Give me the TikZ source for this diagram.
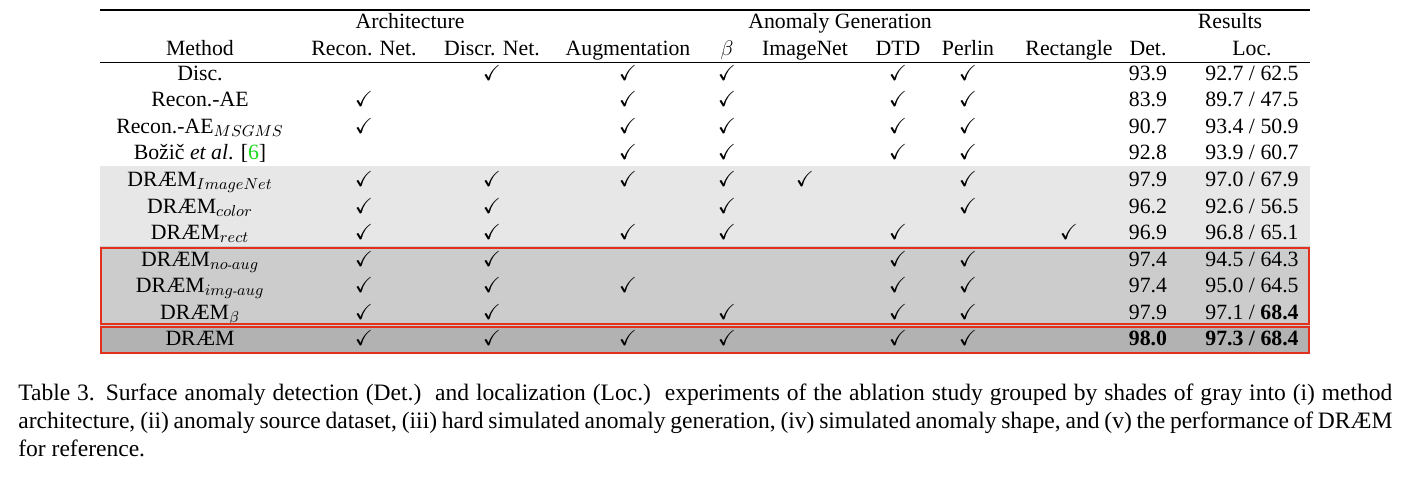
\documentclass[tikz,border=0pt]{standalone}
\usepackage{amssymb}
\usepackage{fontspec}
\setmainfont{Liberation Serif}
\newcommand{\hy}{\mbox{\fontsize{7}{8}\selectfont-}}
\begin{document}
\begin{tikzpicture}[x=0.02cm,y=-0.02cm,
  cell/.style={inner sep=0pt,font=\rmfamily\fontsize{12.4}{14}\selectfont},
  redbox/.style={draw={rgb,255:red,226;green,48;blue,30},line width=1.6pt}]
\useasboundingbox[fill=white] (0,0) rectangle (1408,484);
\definecolor{g1}{gray}{0.905}
\definecolor{g2}{gray}{0.80}
\definecolor{g3}{gray}{0.70}
\fill[g1] (100,166) rectangle (1310,246);
\fill[g2] (100,246) rectangle (1310,326);
\fill[g3] (100,326) rectangle (1310,353);
\draw[line width=0.6pt] (100,10) -- (1310,10);
\draw[line width=0.4pt] (100,62) -- (1310,62);
\node[cell,anchor=base] (hA) at (410,28) {Architecture};
\node[cell,anchor=base] (hG) at (840,28) {Anomaly Generation};
\node[cell,anchor=base] (hR) at (1230,28) {Results};
\foreach \x/\t [count=\i] in {200/Method,364/Recon. Net.,492/Discr. Net.,628/Augmentation,727/$\beta$,805/ImageNet,898/DTD,968/Perlin,1069/Rectangle,1148/Det.,1252/Loc.}
  \node[cell,anchor=base] (h\i) at (\x,55) {\t};
% rows
\foreach \y/\m/\r/\d/\a/\b/\im/\dt/\p/\re/\det/\loc [count=\i] in {
 74/Disc./0/1/1/1/0/1/1/0/93.9/{92.7 / 62.5},
 100/Recon.-AE/1/0/1/1/0/1/1/0/83.9/{89.7 / 47.5},
 127/Recon.-AE$_{MSGMS}$/1/0/1/1/0/1/1/0/90.7/{93.4 / 50.9},
 153/Bo\v{z}i\v{c} \textit{et al}. [{\color[rgb]{0.1,0.85,0.1}6}]/0/0/1/1/0/1/1/0/92.8/{93.9 / 60.7},
 180/DR\AE M$_{ImageNet}$/1/1/1/1/1/0/1/0/97.9/{97.0 / 67.9},
 207/DR\AE M$_{color}$/1/1/0/1/0/0/1/0/96.2/{92.6 / 56.5},
 233/DR\AE M$_{rect}$/1/1/1/1/0/1/0/1/96.9/{96.8 / 65.1},
 260/DR\AE M$_{no\hy aug}$/1/1/0/0/0/1/1/0/97.4/{94.5 / 64.3},
 286/DR\AE M$_{img\hy aug}$/1/1/1/0/0/1/1/0/97.4/{95.0 / 64.5},
 313/DR\AE M$_{\beta}$/1/1/0/1/0/1/1/0/97.9/{97.1 / \textbf{68.4}},
 339/DR\AE M/1/1/1/1/0/1/1/0/\textbf{98.0}/{\textbf{97.3 / 68.4}}}{
  \node[cell,anchor=base] (m\i) at (200,\y+6) {\m};
  \node[cell,anchor=base] (det\i) at (1148,\y+6) {\det};
  \node[cell,anchor=base] (loc\i) at (1252,\y+6) {\loc};
  \ifnum\r=1 \node[cell,anchor=base] at (364,\y+6) {$\checkmark$};\fi
  \ifnum\d=1 \node[cell,anchor=base] at (492,\y+6) {$\checkmark$};\fi
  \ifnum\a=1 \node[cell,anchor=base] at (628,\y+6) {$\checkmark$};\fi
  \ifnum\b=1 \node[cell,anchor=base] at (727,\y+6) {$\checkmark$};\fi
  \ifnum\im=1 \node[cell,anchor=base] at (805,\y+6) {$\checkmark$};\fi
  \ifnum\dt=1 \node[cell,anchor=base] at (898,\y+6) {$\checkmark$};\fi
  \ifnum\p=1 \node[cell,anchor=base] at (968,\y+6) {$\checkmark$};\fi
  \ifnum\re=1 \node[cell,anchor=base] at (1069,\y+6) {$\checkmark$};\fi
}
\draw[redbox] (101,248) rectangle (1309,324);
\draw[redbox] (101,327) rectangle (1309,353);
\node[anchor=north west,inner sep=0pt,text width=1374*0.02cm,align=justify,
  font=\rmfamily\fontsize{13.4}{15.9}\selectfont] (cap) at (18,384)
 {Table 3. Surface anomaly detection (Det.)\ \ and localization (Loc.)\ \ experiments of the ablation study grouped by shades of gray into (i) method architecture, (ii) anomaly source dataset, (iii) hard simulated anomaly generation, (iv) simulated anomaly shape, and (v) the performance of DR\AE M for reference.};
\end{tikzpicture}
\end{document}
